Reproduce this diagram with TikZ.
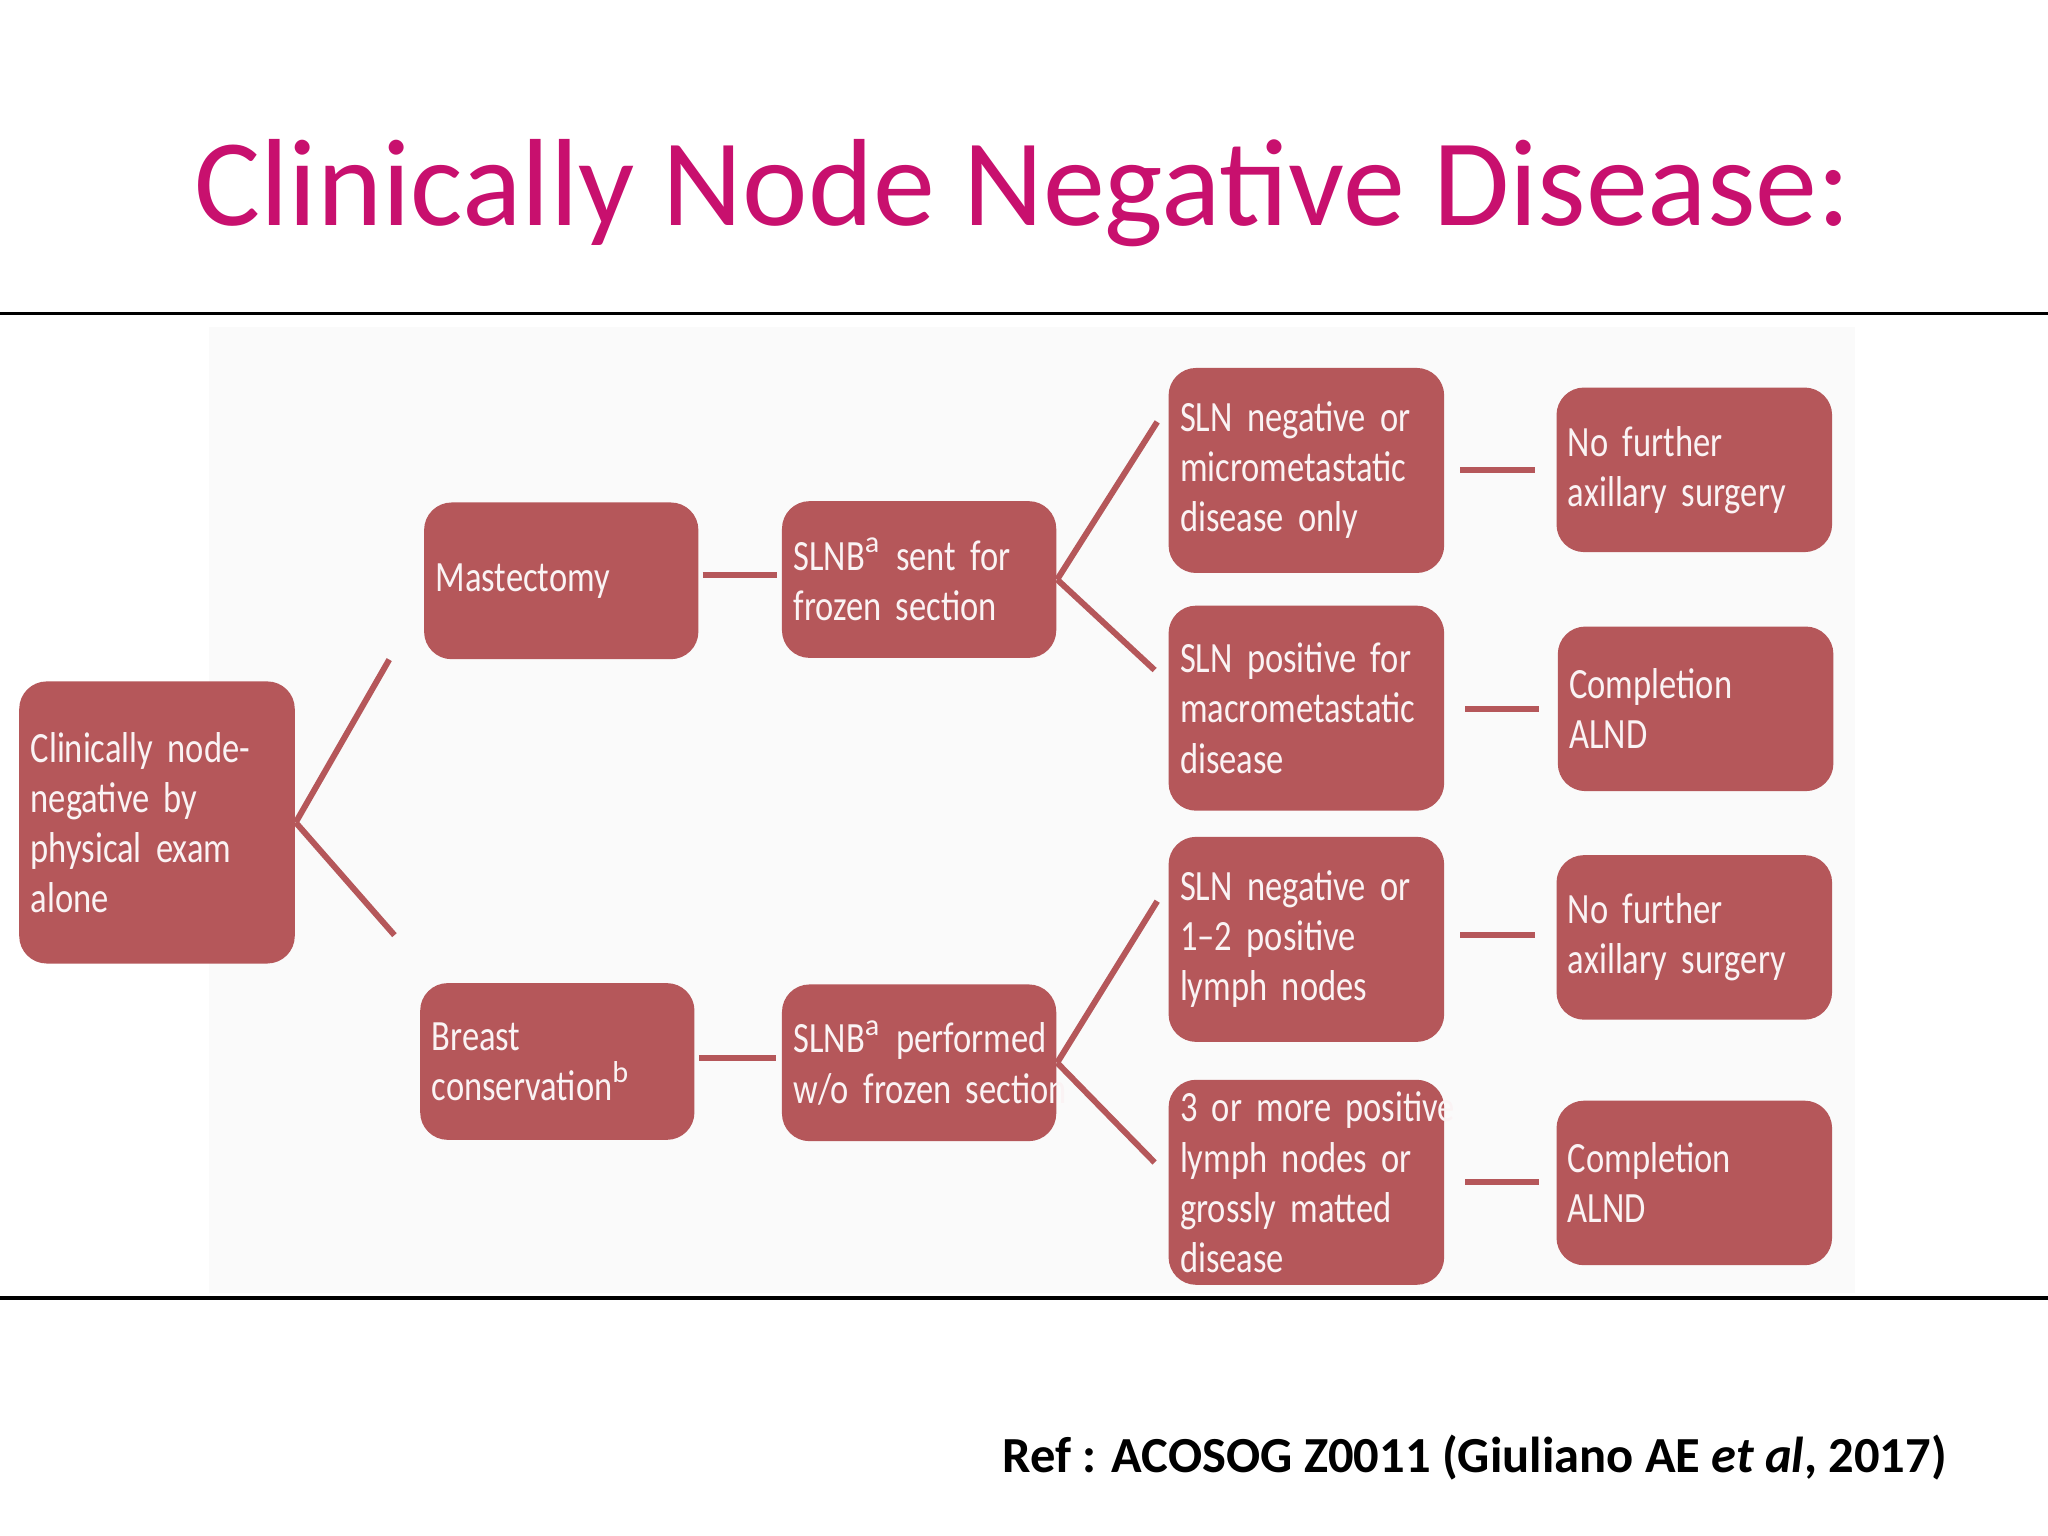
\documentclass[tikz,border=0pt]{standalone}
\usepackage{fontspec}
\setmainfont{Carlito}
\newfontfamily\boxfont[FakeStretch=0.8,WordSpace=0.7]{Carlito}
\begin{document}
\begin{tikzpicture}[x=0.01cm,y=-0.01cm,
  box/.style={draw=none,fill=boxc,rounded corners=6pt,text=white!93!boxc,align=left,inner sep=0pt,
    font=\boxfont\fontsize{9.4}{10.9}\selectfont},
  ln/.style={draw=boxc,line width=1.3pt}]
\definecolor{boxc}{HTML}{B5575A}
\definecolor{titc}{HTML}{C8106E}
\useasboundingbox (0,0) rectangle (1568,1176);
\fill[white] (0,0) rectangle (1568,1176);
\node[text=titc,font=\fontsize{27}{30}\selectfont] (title) at (783,148) {Clinically Node Negative Disease:};
\draw[line width=0.8pt] (0,240) coordinate (r1a) -- (1568,240) coordinate (r1b);
\draw[line width=0.8pt] (0,994) coordinate (r2a) -- (1568,994) coordinate (r2b);
\fill[black!2] (160,250) rectangle (1420,990);
\newcommand{\bx}[6]{\node[box,minimum width=#4*0.01cm,minimum height=#5*0.01cm,anchor=north west,text width=#4*0.01cm-5pt] (#1) at (#2,#3) {\raggedright\hbadness=10000 #6};}
\bx{a}{14}{521}{211}{216}{Clinically node-\\negative by\\physical exam\\alone}
\bx{m}{324}{384}{210}{120}{\centering Mastectomy}
\bx{b}{321}{752}{210}{120}{Breast\\conservation$^{\mathrm b}$}
\bx{s1}{598}{383}{210}{120}{SLNB$^{\mathrm a}$ sent for\\frozen section}
\bx{s2}{598}{753}{210}{120}{\mbox{SLNB$^{\mathrm a}$ performed}\\\mbox{w/o frozen section}}
\bx{r1}{894}{281}{211}{157}{SLN negative or\\micrometastatic\\disease only}
\bx{r2}{894}{463}{211}{157}{SLN positive for\\macrometastatic\\disease}
\bx{r3}{894}{640}{211}{157}{SLN negative or\\1\textendash 2 positive\\lymph nodes}
\bx{r4}{894}{826}{211}{157}{\mbox{3 or more positive}\\lymph nodes or\\grossly matted\\disease}
\bx{f1}{1191}{296}{211}{126}{No further\\axillary surgery}
\bx{f2}{1192}{479}{211}{126}{Completion\\ALND}
\bx{f3}{1191}{654}{211}{126}{No further\\axillary surgery}
\bx{f4}{1191}{842}{211}{126}{Completion\\ALND}
\coordinate (c1) at (298,505); \coordinate (c2) at (302,716);
\draw[ln] (a.east) -- (c1); \draw[ln] (a.east) -- (c2);
\coordinate (m1) at (538,440); \coordinate (m2) at (595,440);
\draw[ln] (m1) -- (m2);
\coordinate (b1) at (535,810); \coordinate (b2) at (594,810);
\draw[ln] (b1) -- (b2);
\coordinate (t1) at (886,323); \coordinate (t2) at (884,513);
\draw[ln] (s1.east) -- (t1); \draw[ln] (s1.east) -- (t2);
\coordinate (t3) at (886,690); \coordinate (t4) at (884,890);
\draw[ln] (s2.east) -- (t3); \draw[ln] (s2.east) -- (t4);
\foreach \i/\y/\xa/\xb in {1/360/1118/1175,2/543/1122/1178,3/716/1118/1175,4/905/1122/1178}{
  \coordinate (h\i a) at (\xa,\y); \coordinate (h\i b) at (\xb,\y);
  \draw[ln] (h\i a) -- (h\i b);}
\node[font=\bfseries\fontsize{11}{13}\selectfont,anchor=east] (ref) at (1503,1116) {Ref : ACOSOG Z0011 (Giuliano AE \textit{et al}, 2017)};
\end{tikzpicture}
\end{document}
